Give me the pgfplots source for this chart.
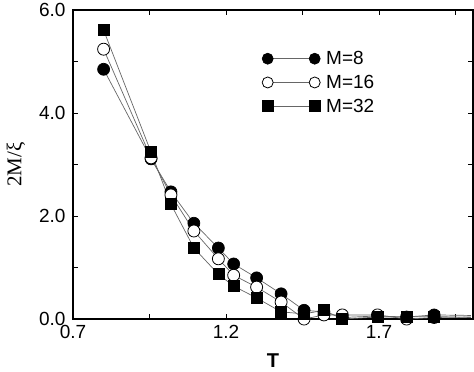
\documentclass[border=0pt]{standalone}
\usepackage{fontspec}
\setmainfont{Liberation Sans}
\newfontfamily\seriffont{Liberation Serif}
\usepackage{pgfplots}
\pgfplotsset{compat=1.18}
\begin{document}
\begin{tikzpicture}
\begin{axis}[
  scale only axis,
  width=400pt, height=309pt,
  xmin=0.7, xmax=2.007, ymin=0, ymax=6,
  clip=false,
  axis line style={line width=1.6pt},
  xtick={0.7,0.95,1.2,1.45,1.7,1.95},
  xticklabels={0.7,,1.2,,1.7,},
  ytick={0,1,2,3,4,5,6},
  yticklabels={0.0,,2.0,,4.0,,6.0},
  major tick length=5pt,
  tick style={line width=0.6pt, black},
  tick align=inside,
  ticklabel style={font=\fontsize{19}{22}\selectfont},
  /pgf/number format/assume math mode=true,
  yticklabel style={xshift=-4pt},
  xticklabel style={yshift=-3pt},
  xlabel={\textbf{T}},
  ylabel={\seriffont 2M/ξ},
  every axis x label/.style={at={(axis description cs:0.5,0)}, yshift=-42pt, anchor=center, font=\fontsize{20}{24}\selectfont},
  every axis y label/.style={at={(axis description cs:0,0.5)}, xshift=-57pt, rotate=90, anchor=center, font=\fontsize{21}{24}\selectfont},
  legend style={draw=none, fill=none, at={(0.4675,0.88)}, anchor=north west,
    font=\fontsize{19}{22}\selectfont, row sep=5pt, column sep=4pt, inner sep=2pt},
  legend cell align=left,
  legend image code/.code={\draw[#1, mark size=5.5pt] plot coordinates {(0pt,0pt) (47pt,0pt)};},
  every axis plot/.append style={line width=0.7pt},
]
\addplot[gray!80!black, mark=*, mark size=6pt, mark options={fill=black, draw=black, solid}, mark indices={1,...,14}]
coordinates {(0.80,4.85) (0.955,3.11) (1.02,2.47) (1.095,1.86) (1.175,1.38) (1.225,1.07) (1.30,0.80) (1.38,0.49) (1.455,0.17) (1.52,0.14) (1.58,0.03) (1.695,0.06) (1.79,0.04) (1.88,0.08) (2.0,0.07)};
\addlegendentry{M=8}
\addplot[gray!80!black, mark=*, mark size=6pt, mark options={fill=white, draw=black, solid, line width=0.8pt}, mark indices={1,...,14}]
coordinates {(0.80,5.24) (0.955,3.13) (1.02,2.41) (1.095,1.71) (1.175,1.17) (1.225,0.85) (1.30,0.62) (1.38,0.33) (1.455,0.0) (1.52,0.08) (1.58,0.08) (1.695,0.08) (1.79,0.0) (1.88,0.03) (2.0,0.04)};
\addlegendentry{M=16}
\addplot[gray!80!black, mark=square*, mark size=5.5pt, mark options={fill=black, draw=black, solid}, mark indices={1,...,14}]
coordinates {(0.80,5.61) (0.955,3.24) (1.02,2.23) (1.095,1.38) (1.175,0.87) (1.225,0.64) (1.30,0.41) (1.38,0.14) (1.455,0.10) (1.52,0.17) (1.58,0.0) (1.695,0.04) (1.79,0.04) (1.88,0.05) (2.0,0.03)};
\addlegendentry{M=32}
\end{axis}
\path[use as bounding box] (current axis.south west) ++(-73pt,-50pt) rectangle ++(474pt,367pt);
\end{tikzpicture}
\end{document}
